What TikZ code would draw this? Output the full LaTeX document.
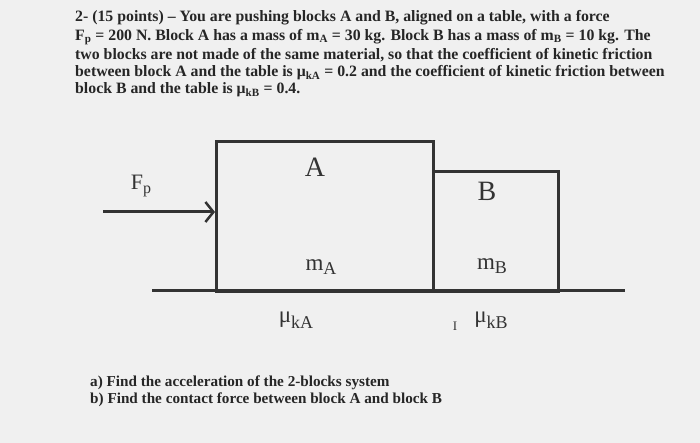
\documentclass[tikz,border=0pt]{standalone}
\usepackage{fontspec}
\setmainfont{Liberation Serif}
\usetikzlibrary{arrows.meta}
\begin{document}
\begin{tikzpicture}[x=1pt,y=-1pt,
  txt/.style={anchor=west,inner sep=0,font=\fontsize{15.8}{17}\selectfont\bfseries,text=black!85},
  qtxt/.style={anchor=west,inner sep=0,font=\fontsize{15.2}{17}\selectfont\bfseries,text=black!85},
  lbl/.style={inner sep=0,font=\fontsize{28}{30}\selectfont,text=black!80},
  blk/.style={draw=black!80,line width=3pt}]
\fill[gray!12] (0,0) rectangle (700,443);
\useasboundingbox (0,0) rectangle (700,443);
\node[txt] (l1) at (75,18) {2- (15 points) -- You are pushing blocks A and B, aligned on a table, with a force};
\node[txt] (l2) at (75,37) {F\textsubscript{p} = 200 N. Block A has a mass of m\textsubscript{A} = 30 kg. Block B has a mass of m\textsubscript{B} = 10 kg. The};
\node[txt] (l3) at (75,55) {two blocks are not made of the same material, so that the coefficient of kinetic friction};
\node[txt] (l4) at (75,73) {between block A and the table is μ\textsubscript{kA} = 0.2 and the coefficient of kinetic friction between};
\node[txt] (l5) at (75,90) {block B and the table is μ\textsubscript{kB} = 0.4.};
\node[blk,minimum width=217,minimum height=150,anchor=north west,inner sep=0] (A) at (215,140) {};
\node[blk,minimum width=125,minimum height=120,anchor=north west,inner sep=0] (B) at (432,170) {};
\coordinate (t1) at (152,290); \coordinate (t2) at (625,290);
\draw[draw=black!80,line width=3pt] (t1) -- (t2);
\coordinate (f0) at (103,212);
\draw[draw=black!80,line width=3pt,-{Straight Barb[length=8pt,width=20pt,line width=2.5pt]}] (f0) -- (A.west |- f0);
\node[lbl,font=\fontsize{22}{24}\selectfont] (fp) at (141,186) {F\raisebox{-0.4ex}{\fontsize{16}{17}\selectfont p}};
\node[lbl] (la) at (315,167) {A};
\node[lbl] (lb) at (487,191) {B};
\node[lbl,font=\fontsize{23}{25}\selectfont] (ma) at (321,267) {m\raisebox{-0.4ex}{\fontsize{18}{19}\selectfont A}};
\node[lbl,font=\fontsize{23}{25}\selectfont] (mb) at (492,266) {m\raisebox{-0.4ex}{\fontsize{18}{19}\selectfont B}};
\node[lbl,font=\fontsize{23}{25}\selectfont] (ua) at (296,320) {μ\raisebox{-0.6ex}{\fontsize{18}{19}\selectfont kA}};
\node[lbl,font=\fontsize{13}{14}\selectfont] (ii) at (455,326) {I};
\node[lbl,font=\fontsize{23}{25}\selectfont] (ub) at (491,320) {μ\raisebox{-0.6ex}{\fontsize{18}{19}\selectfont kB}};
\node[qtxt] (qa) at (90,383) {a) Find the acceleration of the 2-blocks system};
\node[qtxt] (qb) at (90,400) {b) Find the contact force between block A and block B};
\end{tikzpicture}
\end{document}
